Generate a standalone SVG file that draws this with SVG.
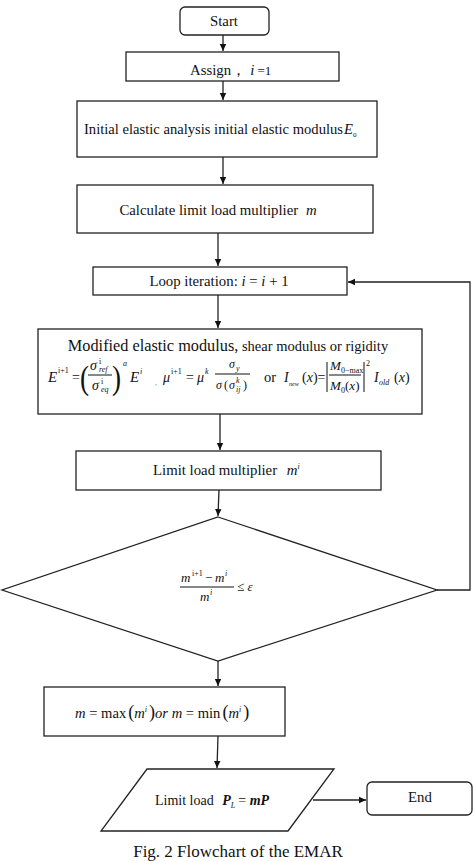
<svg xmlns="http://www.w3.org/2000/svg" width="474" height="861" viewBox="0 0 474 861" font-family="'Liberation Serif', 'DejaVu Serif', serif">
<style>
text{font-family:'Liberation Serif','DejaVu Serif',serif;fill:#111;}
.t{font-size:14.8px;text-anchor:middle;}
.it{font-style:italic;}
.s{font-size:8px;}
.box{fill:#fff;stroke:#222;stroke-width:1.3;}
.c{fill:none;stroke:#222;stroke-width:1.3;}
</style>
<defs>
<marker id="ah" markerWidth="8" markerHeight="8" refX="7" refY="4" orient="auto" markerUnits="userSpaceOnUse">
<path d="M0,0.8 L7,4 L0,7.2 z" fill="#111"/>
</marker>
</defs>
<rect width="474" height="861" fill="#fff"/>

<g id="connectors">
<line class="c" x1="223" y1="35" x2="223" y2="51" marker-end="url(#ah)"/>
<line class="c" x1="223" y1="81" x2="223" y2="100" marker-end="url(#ah)"/>
<line class="c" x1="223" y1="157" x2="223" y2="184" marker-end="url(#ah)"/>
<line class="c" x1="218" y1="233" x2="218" y2="266" marker-end="url(#ah)"/>
<line class="c" x1="218" y1="295" x2="218" y2="328" marker-end="url(#ah)"/>
<line class="c" x1="220" y1="414" x2="220" y2="450" marker-end="url(#ah)"/>
<line class="c" x1="219" y1="490" x2="218" y2="516" marker-end="url(#ah)"/>
<line class="c" x1="218" y1="661" x2="218" y2="686" marker-end="url(#ah)"/>
<line class="c" x1="218" y1="736" x2="217" y2="768" marker-end="url(#ah)"/>
<line class="c" x1="313" y1="800" x2="366" y2="800" marker-end="url(#ah)"/>
<polyline class="c" points="437,590 470,590 470,282 348,282" marker-end="url(#ah)"/>
</g>

<g id="start">
<rect class="box" x="180" y="7" width="89" height="28" rx="5"/>
<text class="t" x="224" y="26">Start</text>
</g>

<g id="assign">
<rect class="box" x="126" y="52" width="213" height="29"/>
<text x="190" y="75" font-size="14.8">Assign，<tspan class="it" dx="4">i</tspan><tspan font-size="13"> =1</tspan></text>
</g>

<g id="initial">
<rect class="box" x="77" y="101" width="300" height="56"/>
<text x="84" y="134" font-size="14.6">Initial elastic analysis initial elastic modulus<tspan class="it" dx="1">E</tspan><tspan font-size="7" dy="3">0</tspan></text>
</g>

<g id="calculate">
<rect class="box" x="77" y="185" width="296" height="48"/>
<text class="t" x="218" y="215">Calculate limit load multiplier <tspan class="it" dx="4">m</tspan></text>
</g>

<g id="loop">
<rect class="box" x="93" y="267" width="254" height="28"/>
<text class="t" x="219" y="286">Loop iteration: <tspan class="it">i</tspan> = <tspan class="it">i</tspan> + 1</text>
</g>

<g id="modify">
<rect class="box" x="38" y="329" width="384" height="85"/>
<text x="228" y="351" text-anchor="middle"><tspan font-size="16.3">Modified elastic modulus,</tspan><tspan font-size="14.5"> shear modulus or rigidity</tspan></text>
<text x="48" y="382" class="it" font-size="15">E</text>
<text x="58" y="373" class="s">i+1</text>
<text x="72" y="382" font-size="14">=</text>
<text x="80" y="389" font-size="34" transform="translate(80 389) scale(0.8 1) translate(-80 -389)">(</text>
<text x="90" y="370" class="it" font-size="14">σ</text>
<text x="99" y="364" class="s">i</text>
<text x="99" y="372" class="s it" font-size="7">ref</text>
<line x1="88" y1="375" x2="112" y2="375" stroke="#111" stroke-width="1"/>
<text x="92" y="390" class="it" font-size="14">σ</text>
<text x="101" y="384" class="s">i</text>
<text x="101" y="392" class="s it" font-size="7">eq</text>
<text x="112" y="389" font-size="34" transform="translate(112 389) scale(0.8 1) translate(-112 -389)">)</text>
<text x="123" y="366" class="s it">a</text>
<text x="130" y="382" class="it" font-size="15">E</text>
<text x="140" y="374" class="s it">i</text>
<text x="155" y="385" font-size="7" style="fill:#2a8a2a">,</text>
<text x="163" y="382" class="it" font-size="14">μ</text>
<text x="171" y="374" class="s">i+1</text>
<text x="186" y="382" font-size="14">=</text>
<text x="197" y="382" class="it" font-size="14">μ</text>
<text x="205" y="374" class="s it">k</text>
<text x="229" y="368" class="it" font-size="12">σ</text>
<text x="236" y="371" class="s it" font-size="7">y</text>
<line x1="215" y1="374" x2="250" y2="374" stroke="#111" stroke-width="1"/>
<text x="216" y="389" class="it" font-size="12">σ</text>
<text x="224" y="389" font-size="12">(</text>
<text x="229" y="389" class="it" font-size="12">σ</text>
<text x="236" y="383" class="s it" font-size="7">k</text>
<text x="236" y="392" class="s it" font-size="7">ij</text>
<text x="243" y="389" font-size="12">)</text>
<text x="264" y="382" font-size="14.5">or</text>
<text x="284" y="382" class="it" font-size="14">I</text>
<text x="289" y="386" class="it" font-size="6">new</text>
<text x="302" y="382" font-size="14">(<tspan class="it">x</tspan>)=</text>
<line x1="327" y1="362" x2="327" y2="392" stroke="#111" stroke-width="1"/>
<text x="330" y="370" class="it" font-size="13">M</text>
<text x="341" y="373" class="s" font-size="7">0−max</text>
<line x1="329" y1="375" x2="361" y2="375" stroke="#111" stroke-width="1"/>
<text x="330" y="390" class="it" font-size="13">M</text>
<text x="341" y="393" class="s" font-size="7">0</text>
<text x="345" y="390" font-size="13">(<tspan class="it">x</tspan>)</text>
<line x1="364" y1="362" x2="364" y2="392" stroke="#111" stroke-width="1"/>
<text x="366" y="366" class="s">2</text>
<text x="374" y="382" class="it" font-size="14">I</text>
<text x="379" y="385" class="s it" font-size="7">old</text>
<text x="394" y="382" font-size="14">(<tspan class="it">x</tspan>)</text>
</g>

<g id="limit-mi">
<rect class="box" x="76" y="451" width="305" height="39"/>
<text x="153" y="475" font-size="14.8">Limit load multiplier <tspan class="it" dx="6">m</tspan><tspan class="s it" dy="-6">i</tspan></text>
</g>

<g id="decision">
<polygon class="box" points="218,517 437,590 218,661 2,590"/>
<text x="181" y="582" class="it" font-size="13">m</text>
<text x="192" y="576" class="s">i+1</text>
<text x="205" y="582" font-size="13">−</text>
<text x="215" y="582" class="it" font-size="13">m</text>
<text x="225" y="576" class="s it">i</text>
<line x1="180" y1="587" x2="234" y2="587" stroke="#111" stroke-width="1"/>
<text x="200" y="601" class="it" font-size="13">m</text>
<text x="210" y="595" class="s it">i</text>
<text x="237" y="591" font-size="13">≤ <tspan class="it">ε</tspan></text>
</g>

<g id="select">
<rect class="box" x="44" y="687" width="241" height="49"/>
<text x="75" y="718" font-size="14.6"><tspan class="it">m</tspan> = max<tspan font-size="18" dx="2">(</tspan><tspan class="it">m</tspan><tspan class="s it" dy="-6">i</tspan><tspan font-size="18" dy="6" dx="2">)</tspan><tspan class="it">or</tspan> <tspan class="it">m</tspan> = min<tspan font-size="18" dx="2">(</tspan><tspan class="it">m</tspan><tspan class="s it" dy="-6">i</tspan><tspan font-size="18" dy="6" dx="2">)</tspan></text>
</g>

<g id="limit-load">
<polygon class="box" points="147,769 334,769 288,831 101,831"/>
<text x="155" y="805" font-size="14">Limit load <tspan class="it" dx="5" font-weight="bold">P</tspan><tspan class="s it" dy="3">L</tspan><tspan dy="-3" dx="3">= </tspan><tspan class="it" font-weight="bold">mP</tspan></text>
</g>

<g id="end">
<rect class="box" x="367" y="782" width="105" height="33" rx="5"/>
<text class="t" x="420" y="802">End</text>
</g>

<text x="238" y="857" font-size="17" text-anchor="middle">Fig. 2 Flowchart of the EMAR</text>
</svg>
